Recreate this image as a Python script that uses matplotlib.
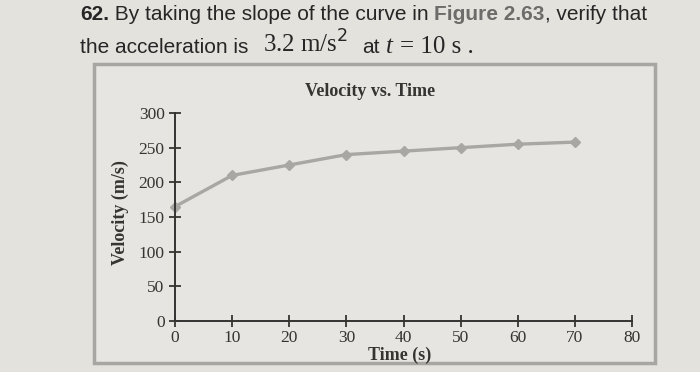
import matplotlib.pyplot as plt
from matplotlib.patches import Rectangle

# data
time_s = [0, 10, 20, 30, 40, 50, 60, 70]
velocity = [165, 210, 225, 240, 245, 250, 255, 258]
xticks = [0, 10, 20, 30, 40, 50, 60, 70, 80]
yticks = [0, 50, 100, 150, 200, 250, 300]

W, H = 700, 372
page = "#e4e2dd"
ink = "#262626"
chart_ink = "#363432"
line_col = "#a9a7a3"
sans = "Liberation Sans"
serif = "Liberation Serif"

fig = plt.figure(figsize=(W / 100, H / 100), dpi=100)
fig.patch.set_facecolor(page)

def fx(px):
    return px / W

def fy(py):
    return 1 - py / H

# full-figure layer (pixel coords) for the question text and the frame
bg = fig.add_axes([0, 0, 1, 1])
bg.set_xlim(0, W)
bg.set_ylim(H, 0)
bg.axis("off")
bg.add_patch(Rectangle((94, 64), 561, 299, facecolor="#e7e5e1",
                       edgecolor="#a8a6a2", lw=2.5, zorder=0))

def chain(prev, s, **kw):
    # put text s right after the previous text
    return bg.annotate(s, xy=(1, 0), xycoords=prev, va="bottom",
                       annotation_clip=False, color=ink, **kw)

# line 1
p = bg.text(80, 20, "62.", fontsize=15, fontweight="bold", family=sans,
            color=ink, va="baseline")
p = chain(p, " By taking the slope of the curve in ", fontsize=15, family=sans)
p = chain(p, "Figure 2.63", fontsize=15, family=sans, fontweight="bold")
p.set_color("#6e6c6a")
p = chain(p, ", verify that", fontsize=15, family=sans)

# line 2
bl = 53
bg.text(80, bl, "the acceleration is", fontsize=15, family=sans, color=ink, va="baseline")
bg.text(263, bl, r"3.2 m/s$^2$", fontsize=18, family=serif, color=ink, va="baseline")
bg.text(362, bl, "at", fontsize=15, family=sans, color=ink, va="baseline")
bg.text(386, bl, "t", fontsize=18, family=serif, style="italic", color=ink, va="baseline")
bg.text(400, bl, "= 10 s .", fontsize=18, family=serif, color=ink, va="baseline")

# chart title
bg.text(370, 91, "Velocity vs. Time", family=serif, fontweight="bold", fontsize=13,
        color=chart_ink, ha="center", va="center")

# chart
ax = fig.add_axes([fx(175), fy(321), fx(632) - fx(175), fy(113) - fy(321)])
ax.set_facecolor("none")
ax.plot(time_s, velocity, color=line_col, lw=2.4, marker="D", ms=5,
        mec=line_col, mfc=line_col, clip_on=False)
ax.set_xlim(0, 80)
ax.set_ylim(0, 300)
ax.set_xticks(xticks)
ax.set_yticks(yticks)
for side in ["top", "right"]:
    ax.spines[side].set_visible(False)
for side in ["left", "bottom"]:
    ax.spines[side].set_color(chart_ink)
    ax.spines[side].set_linewidth(1.4)
ax.tick_params(direction="inout", length=9, width=1.3, colors=chart_ink,
               labelsize=12.5)
ax.tick_params(axis="x", pad=2)
ax.tick_params(axis="y", pad=3)
for lbl in ax.get_xticklabels() + ax.get_yticklabels():
    lbl.set_family(serif)
ax.set_xlabel("Time (s)", family=serif, fontweight="bold", fontsize=13,
              color=chart_ink, va="center")
ax.xaxis.set_label_coords(0.492, -0.165)
ax.set_ylabel("Velocity (m/s)", family=serif, fontweight="bold", fontsize=13,
              color=chart_ink, va="center")
ax.yaxis.set_label_coords(-0.12, 0.52)

fig.savefig("out.png", dpi=100, facecolor=page)
